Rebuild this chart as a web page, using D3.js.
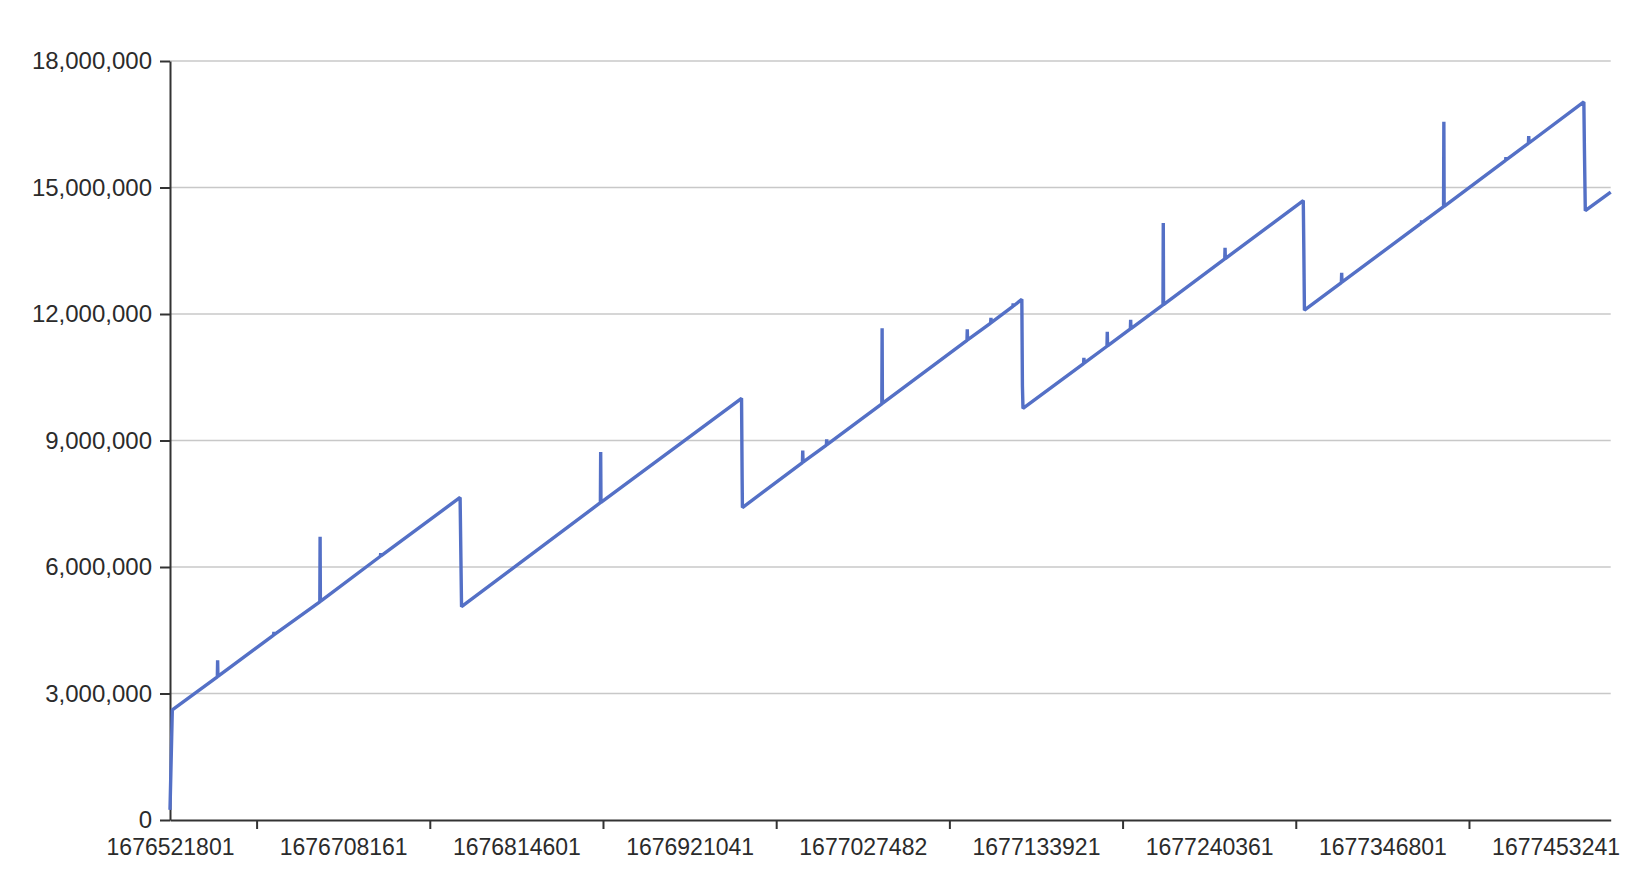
<!DOCTYPE html>
<html>
<head>
<meta charset="utf-8">
<script src="https://cdn.jsdelivr.net/npm/d3@7"></script>
<style>
  html, body { margin: 0; padding: 0; background: #fff; }
  #chart svg { display: block; }
  .axis text { font-family: "Liberation Sans", Arial, sans-serif; font-size: 23px; fill: #2b2b2b; }
  .y-axis text { font-size: 24px; }
</style>
</head>
<body>
<div id="chart"><svg></svg></div>
<script>
// x labels shown on the category axis (one every 600 samples)
const xLabels = ["1676521801", "1676708161", "1676814601", "1676921041", "1677027482",
                 "1677133921", "1677240361", "1677346801", "1677453241"];
const labelEvery = 600;
const lastSample = 4991;

// y axis ticks
const yTicks = [0, 3000000, 6000000, 9000000, 12000000, 15000000, 18000000];

// vertices of the series: sample index and value
const sampleIdx = [
  0, 8, 164, 165, 166, 359, 360, 361, 519, 520, 521, 729, 730, 731, 1005, 1010,
  1491, 1492, 1493, 1980, 1982, 1983,
  2191, 2192, 2193, 2274, 2275, 2276, 2466, 2467, 2468, 2761, 2762, 2763,
  2843, 2844, 2845, 2920, 2921, 2922, 2951, 2953, 2955,
  3165, 3166, 3167, 3246, 3247, 3248, 3327, 3328, 3329, 3440, 3441, 3442,
  3654, 3655, 3656, 3926, 3928, 3930,
  4058, 4059, 4060, 4335, 4336, 4337, 4412, 4413, 4414, 4627, 4628, 4629,
  4706, 4707, 4708, 4898, 4900, 4903, 4991
];
const values = [
  240000, 2610000, 3395000, 3790000, 3405000, 4385000, 4460000, 4395000,
  5175000, 6720000, 5185000, 6255000, 6330000, 6265000, 7650000, 5060000,
  7525000, 8730000, 7535000, 10000000, 8130000, 7410000,
  8475000, 8760000, 8485000, 8890000, 9030000, 8900000, 9870000, 11660000, 9880000,
  11375000, 11640000, 11385000, 11785000, 11910000, 11795000,
  12180000, 12250000, 12190000, 12350000, 10300000, 9760000,
  10825000, 10960000, 10835000, 11235000, 11580000, 11245000, 11645000, 11860000, 11655000,
  12215000, 14160000, 12225000, 13305000, 13570000, 13315000, 14690000, 13460000, 12090000,
  12745000, 12980000, 12755000, 14155000, 14220000, 14165000, 14545000, 16560000, 14555000,
  15645000, 15720000, 15655000, 16045000, 16220000, 16055000, 17030000, 15900000, 14450000,
  14890000
];

function drawChart() {
    let svg = d3.select("#chart svg").attr("width", 1646).attr("height", 892);
    svg.selectAll("*").remove();

    let margin = {top: 61, right: 35.3, bottom: 72, left: 170};
    let width = +svg.attr("width") - margin.left - margin.right;
    let height = +svg.attr("height") - margin.top - margin.bottom;
    let g = svg.append("g").attr("transform", "translate(" + margin.left + "," + margin.top + ")");

    let x = d3.scaleLinear().domain([0, lastSample]).range([0, width]);
    let y = d3.scaleLinear().domain([0, d3.max(yTicks)]).range([height, 0]);

    let data = sampleIdx.map((s, i) => ({s: s, v: values[i]}));

    // grid lines
    g.append("g")
        .selectAll("line")
        .data(yTicks.filter(d => d > 0))
        .enter().append("line")
        .attr("x1", 0)
        .attr("x2", width)
        .attr("y1", d => y(d))
        .attr("y2", d => y(d))
        .attr("stroke", "#c8c8c8")
        .attr("stroke-width", 1.6);

    // ticks sit half way between labels
    let labelPos = xLabels.map((d, i) => i * labelEvery);
    let tickPos = labelPos.slice(0, -1).map(d => d + labelEvery / 2);

    g.append("g")
        .attr("class", "axis")
        .attr("transform", "translate(0," + height + ")")
        .call(d3.axisBottom(x).tickValues(tickPos).tickFormat("").tickSize(9).tickSizeOuter(0));

    let xText = g.append("g")
        .attr("class", "axis")
        .attr("transform", "translate(0," + height + ")")
        .call(d3.axisBottom(x).tickValues(labelPos).tickFormat((d, i) => xLabels[i]).tickSize(0).tickPadding(19));
    xText.select(".domain").remove();

    g.append("g")
        .attr("class", "axis y-axis")
        .call(d3.axisLeft(y).tickValues(yTicks).tickFormat(d3.format(",")).tickSize(10).tickSizeOuter(0).tickPadding(8));

    g.selectAll(".axis .domain, .axis line").attr("stroke", "#333").attr("stroke-width", 2);

    let line = d3.line()
        .x(d => x(d.s))
        .y(d => y(d.v));

    g.append("path")
        .datum(data)
        .attr("fill", "none")
        .attr("stroke", "#5470c6")
        .attr("stroke-width", 3.4)
        .attr("stroke-linejoin", "bevel")
        .attr("d", line);
}

drawChart();
</script>
</body>
</html>
